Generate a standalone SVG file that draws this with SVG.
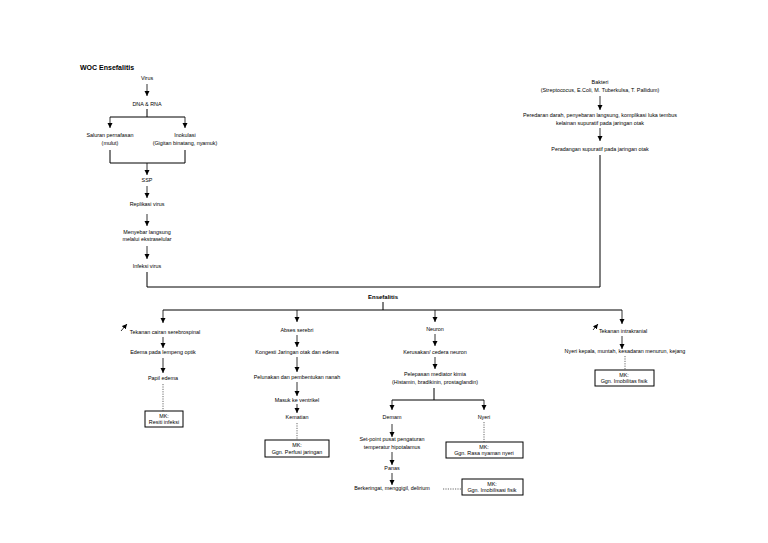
<svg xmlns="http://www.w3.org/2000/svg" width="768" height="543" viewBox="0 0 768 543">
<defs>
<marker id="a" markerWidth="6" markerHeight="6" refX="5" refY="3" orient="auto" markerUnits="userSpaceOnUse"><path d="M0,0.5 L5,3 L0,5.5 Z" fill="#000"/></marker>
<style>
text{font-family:"Liberation Sans",Arial,sans-serif;font-size:5.4px;fill:#000;text-anchor:middle}
.b{font-weight:bold;font-size:7px}
.l{stroke:#000;stroke-width:1;fill:none}
.ar{stroke:#000;stroke-width:0.8;fill:none;marker-end:url(#a)}
.d{stroke:#000;stroke-width:0.6;fill:none;stroke-dasharray:1.2,1.2}
.box{fill:#fff;stroke:#000;stroke-width:1}
</style>
</defs>
<rect width="768" height="543" fill="#fff"/>
<text class="b" x="80" y="70" style="text-anchor:start">WOC Ensefalitis</text>
<g id="connectors">
<path class="ar" d="M147,84 V96"/>
<path class="l" d="M147,109 V117 M110,117 H185"/>
<path class="ar" d="M110,117 V128"/><path class="ar" d="M185,117 V128"/>
<path class="l" d="M110,150 V163 H185 V150"/>
<path class="ar" d="M147,163 V175"/>
<path class="ar" d="M147,186 V198"/>
<path class="ar" d="M147,214 V226"/>
<path class="ar" d="M147,246 V259"/>
<path class="l" d="M147,272 V287 H600 V155"/>
<path class="ar" d="M600,96 V110"/>
<path class="ar" d="M600,128 V141"/>
<path class="l" d="M383,302 V310 M163,310 H622"/>
<path class="ar" d="M163,310 V323"/><path class="ar" d="M297,310 V322"/><path class="ar" d="M435,310 V322"/><path class="ar" d="M622,310 V324"/>
<path class="ar" d="M121,331 L127,324"/><path class="ar" d="M593,330 L598,324"/>
<path class="ar" d="M163,337 V348"/><path class="ar" d="M163,358 V373"/><path class="d" d="M163,384 V411"/>
<path class="ar" d="M297,335 V347"/><path class="ar" d="M297,357 V372"/><path class="ar" d="M297,382 V396"/><path class="ar" d="M297,404 V413"/><path class="d" d="M297,423 V440"/>
<path class="ar" d="M435,334 V346"/><path class="ar" d="M435,357 V369"/>
<path class="l" d="M434,388 V400 M392,400 H484"/>
<path class="ar" d="M392,400 V410"/><path class="ar" d="M484,400 V410"/>
<path class="ar" d="M392,424 V437"/><path class="ar" d="M392,452 V465"/><path class="ar" d="M392,473 V485"/>
<path class="d" d="M484,422 V442"/><path class="d" d="M443,489 H461"/>
<path class="ar" d="M622,336 V349"/><path class="d" d="M625,356 V370"/>
</g>
<g id="virus"><text x="147" y="80">Virus</text></g>
<g id="dna"><text x="147" y="106">DNA &amp; RNA</text></g>
<g id="saluran"><text x="110" y="137">Saluran pernafasan</text><text x="110" y="145">(mulut)</text></g>
<g id="inokulasi"><text x="185" y="137">Inokulasi</text><text x="185" y="145">(Gigitan binatang, nyamuk)</text></g>
<g id="ssp"><text x="147" y="182">SSP</text></g>
<g id="replikasi"><text x="147" y="206">Replikasi virus</text></g>
<g id="menyebar"><text x="147" y="234">Menyebar langsung</text><text x="147" y="241">melalui ekstraselular</text></g>
<g id="infeksi"><text x="147" y="268">Infeksi virus</text></g>
<g id="bakteri"><text x="600" y="84">Bakteri</text><text x="600" y="92">(Streptococus, E.Coli, M. Tuberkulsa, T. Pallidum)</text></g>
<g id="peredaran"><text x="600" y="117">Peredaran darah, penyebaran langsung, komplikasi luka tembus</text><text x="600" y="125">kelainan supuratif pada jaringan otak</text></g>
<g id="peradangan"><text x="600" y="151">Peradangan supuratif pada jaringan otak</text></g>
<g id="ensefalitis"><text class="b" x="383" y="299" style="font-size:6px">Ensefalitis</text></g>
<g id="tekanan-csf"><text x="165" y="334">Tekanan cairan serebrospinal</text></g>
<g id="edema"><text x="163" y="354">Edema pada lempeng optik</text></g>
<g id="papil"><text x="163" y="380">Papil edema</text></g>
<g id="mk1"><rect class="box" x="145" y="411" width="38" height="16"/><text x="164" y="418">MK:</text><text x="164" y="424">Resiti infeksi</text></g>
<g id="abses"><text x="297" y="332">Abses serebri</text></g>
<g id="kongesti"><text x="297" y="354">Kongesti Jaringan otak dan edema</text></g>
<g id="pelunakan"><text x="297" y="379">Pelunakan dan pembentukan nanah</text></g>
<g id="masuk"><text x="297" y="402">Masuk ke ventrikel</text></g>
<g id="kematian"><text x="297" y="419">Kematian</text></g>
<g id="mk2"><rect class="box" x="265" y="440" width="64" height="17"/><text x="297" y="447">MK:</text><text x="297" y="454">Ggn. Perfusi jaringan</text></g>
<g id="neuron"><text x="435" y="331">Neuron</text></g>
<g id="kerusakan"><text x="435" y="354">Kerusakan/ cedera neuron</text></g>
<g id="pelepasan"><text x="435" y="376">Pelepasan mediator kimia</text><text x="435" y="384">(Histamin, bradikinin, prostaglandin)</text></g>
<g id="demam"><text x="392" y="419">Demam</text></g>
<g id="setpoint"><text x="392" y="441">Set-point pusat pengaturan</text><text x="392" y="449">temperatur hipotalamus</text></g>
<g id="panas"><text x="392" y="470">Panas</text></g>
<g id="berkeringat"><text x="392" y="490">Berkeringat, menggigil, delirium</text></g>
<g id="mk-imob"><rect class="box" x="462" y="479" width="61" height="16"/><text x="492" y="486">MK:</text><text x="492" y="492">Ggn. Imobilisasi fisik</text></g>
<g id="nyeri"><text x="484" y="419">Nyeri</text></g>
<g id="mk-nyeri"><rect class="box" x="446" y="442" width="77" height="16"/><text x="484" y="449">MK:</text><text x="484" y="455">Ggn. Rasa nyaman nyeri</text></g>
<g id="tik"><text x="623" y="333">Tekanan intrakranial</text></g>
<g id="nyeri-kepala"><text x="625" y="353">Nyeri kepala, muntah, kesadaran menurun, kejang</text></g>
<g id="mk4"><rect class="box" x="595" y="370" width="59" height="16"/><text x="624" y="377">MK:</text><text x="624" y="383">Ggn. Imobilitas fisik</text></g>
</svg>
